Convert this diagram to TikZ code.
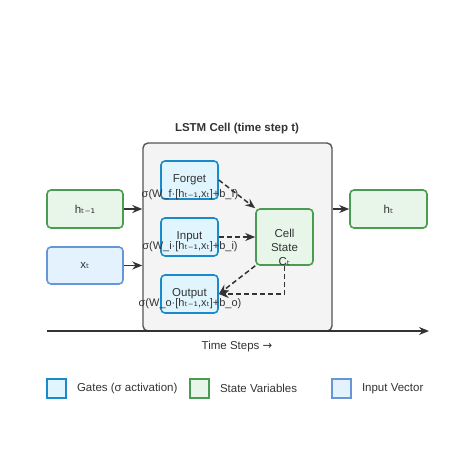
\documentclass[tikz,border=0pt]{standalone}
\usepackage{fontspec}
\setmainfont{Liberation Sans}
\newfontfamily\subfont{DejaVu Sans}
\usetikzlibrary{arrows.meta,positioning}
\definecolor{txt}{HTML}{333333}
\definecolor{gateline}{HTML}{1B8ACB}
\definecolor{gatefill}{HTML}{E1F5FE}
\definecolor{stateline}{HTML}{4A9C50}
\definecolor{statefill}{HTML}{E8F5E9}
\definecolor{inline}{HTML}{6796D8}
\definecolor{infill}{HTML}{E3F2FD}
\definecolor{cellline}{HTML}{555555}
\definecolor{cellfill}{HTML}{F4F4F4}
\tikzstyle{gate} = [draw=gateline,fill=gatefill,line width=1.6pt,rounded corners=4pt,minimum width=57pt,minimum height=38pt,font=\fontsize{11.5}{13}\selectfont,text=txt]
\tikzstyle{statebox} = [draw=stateline,fill=statefill,line width=1.6pt,rounded corners=4pt,minimum width=76pt,minimum height=38pt,font=\fontsize{11.5}{13}\selectfont,text=txt]
\tikzstyle{inputbox} = [draw=inline,fill=infill,line width=1.6pt,rounded corners=4pt,minimum width=76pt,minimum height=37pt,font=\fontsize{11.5}{13}\selectfont,text=txt]
\tikzstyle{formula} = [font=\fontsize{11}{12}\selectfont,text=txt,inner sep=0]
\tikzstyle{flow} = [-{Stealth[length=10pt,width=8pt]},line width=1.5pt,draw=txt]
\tikzstyle{gateflow} = [flow,dashed,dash pattern=on 5pt off 3pt]
\tikzstyle{legendbox} = [line width=1.6pt,minimum size=19pt,inner sep=0]
\tikzstyle{legendtext} = [anchor=west,font=\fontsize{11.5}{13}\selectfont,text=txt,inner sep=0]
\def \tmo {{\subfont ₜ₋₁}}
\def \ts {{\subfont ₜ}}

\begin{document}
\begin{tikzpicture}[x=1pt,y=-1pt]
  \useasboundingbox (0,0) rectangle (474,474);
  \node[font=\bfseries\fontsize{11.5}{13}\selectfont,text=txt] (title) at (237,129) {LSTM Cell (time step t)};
  \node[draw=cellline,fill=cellfill,line width=1.4pt,rounded corners=5pt,minimum width=189pt,minimum height=188pt] (cell) at (237.5,237) {};
  % gates
  \node[gate] (forget) at (189.5,180) {Forget};
  \node[gate] (input) at (189.5,237) {Input};
  \node[gate] (output) at (189.5,294) {Output};
  \node[formula] (fforget) at (190,195) {σ(W\_f·[h\tmo,x\ts]+b\_f)};
  \node[formula] (finput) at (190,247) {σ(W\_i·[h\tmo,x\ts]+b\_i)};
  \node[formula] (foutput) at (190,304) {σ(W\_o·[h\tmo,x\ts]+b\_o)};
  % cell state
  \node[statebox,minimum width=57pt,minimum height=56pt] (cstate) at (284.5,237) {};
  \node[align=center,font=\fontsize{11.5}{14}\selectfont,text=txt,inner sep=0] (cslabel) at (284.5,247) {Cell\\State\\C\ts};
  % inputs and output
  \node[statebox] (hprev) at (85,209) {h\tmo};
  \node[inputbox] (xin) at (85,265.5) {x\ts};
  \node[statebox,minimum width=77pt] (hnext) at (388.5,209) {h\ts};
  \draw[flow] (hprev.east) -- (hprev.east -| cell.west);
  \draw[flow] (xin.east) -- (xin.east -| cell.west);
  \draw[flow] (cell.east |- hnext.west) -- (hnext.west);
  \draw[gateflow] (forget.east) -- (cstate.north west);
  \draw[gateflow] (input.east) -- (cstate.west);
  \draw[gateflow] (cstate.south west) -- (output.east);
  \draw[gateflow] (cstate.south) |- (output.east);
  % time axis
  \coordinate (tstart) at (47,331);
  \coordinate (tend) at (429,331);
  \draw[flow] (tstart) -- (tend);
  \node[font=\fontsize{11.5}{13}\selectfont,text=txt] (tlabel) at (237,347) {Time Steps {\subfont →}};
  % legend
  \node[legendbox,draw=gateline,fill=gatefill] (lgate) at (56.5,388.5) {};
  \node[legendtext,right=10pt of lgate] (lgatetext) {Gates (σ activation)};
  \node[legendbox,draw=stateline,fill=statefill] (lstate) at (199.5,388.5) {};
  \node[legendtext,right=10pt of lstate] (lstatetext) {State Variables};
  \node[legendbox,draw=inline,fill=infill] (linput) at (341.5,388.5) {};
  \node[legendtext,right=10pt of linput] (linputtext) {Input Vector};
\end{tikzpicture}
\end{document}
